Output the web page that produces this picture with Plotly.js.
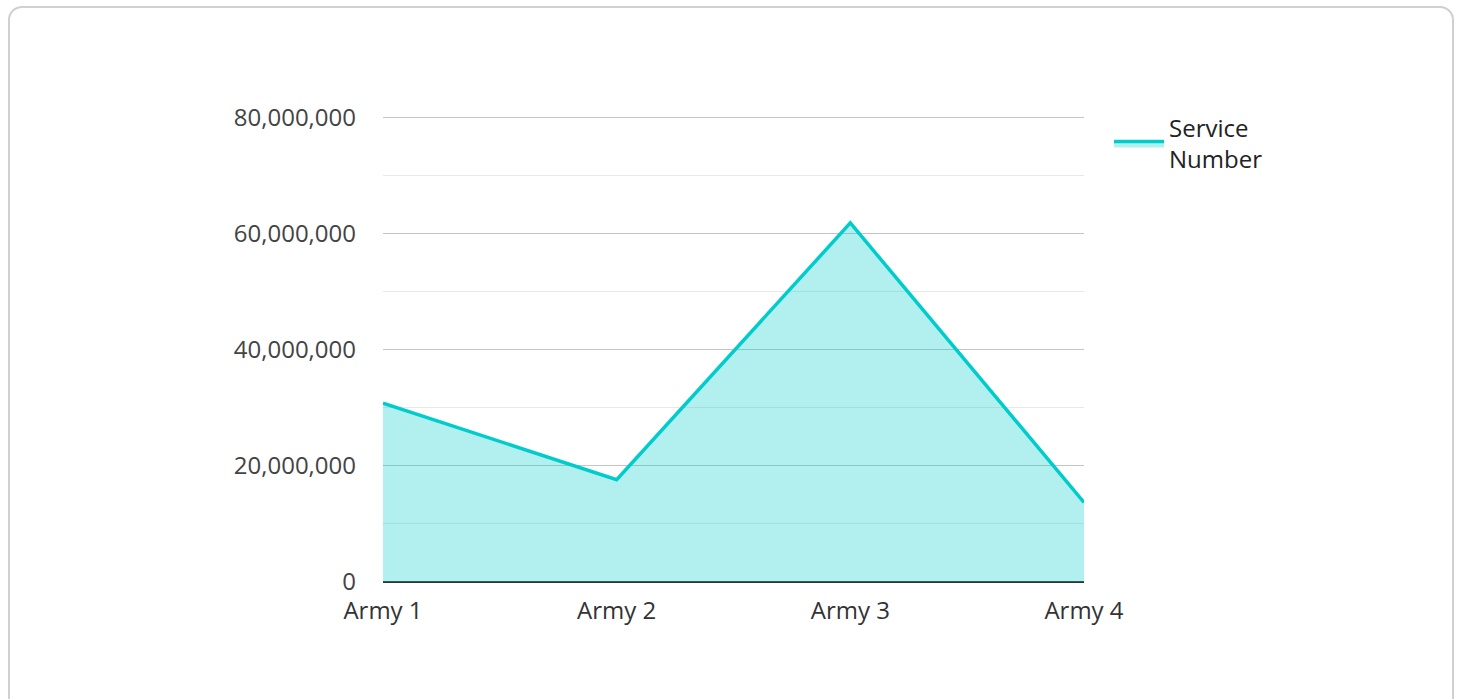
<!DOCTYPE html>
<html>
<head>
<meta charset="utf-8">
<script src="https://cdn.plot.ly/plotly-3.0.1.min.js"></script>
<style>
html,body{margin:0;padding:0;background:#fff;width:1460px;height:699px;overflow:hidden;}
#card{position:absolute;left:8px;top:6px;width:1446px;height:720px;border:2px solid #d0d0d0;border-radius:14px;box-sizing:border-box;}
#chart{position:absolute;left:0;top:0;width:1460px;height:699px;}
</style>
</head>
<body>
<div id="card"></div>
<div id="chart"></div>
<script>
const categories = ["Army 1", "Army 2", "Army 3", "Army 4"];
const serviceNumber = [30800000, 17600000, 61800000, 13700000];
const seriesName = "Service<br>Number";
const yTickVals = [0, 20000000, 40000000, 60000000, 80000000];
const yTickText = ["0", "20,000,000", "40,000,000", "60,000,000", "80,000,000"];

const trace = {
  x: categories,
  y: serviceNumber,
  type: 'scatter',
  mode: 'lines',
  name: seriesName,
  fill: 'tozeroy',
  fillcolor: 'rgba(0,204,204,0.30)',
  line: {color: 'rgb(0,204,204)', width: 3.5},
  hoverinfo: 'x+y'
};

const layout = {
  width: 1460, height: 699,
  paper_bgcolor: 'rgba(0,0,0,0)',
  plot_bgcolor: 'rgba(0,0,0,0)',
  margin: {l: 383, r: 376, t: 116, b: 117, pad: 0},
  font: {family: '"Open Sans", "Noto Sans", sans-serif', size: 24, color: '#444'},
  showlegend: true,
  legend: {x: 1.0357, y: 1.022, xanchor: 'left', yanchor: 'top', itemwidth: 50, font: {size: 24, color: '#222'}, bgcolor: 'rgba(0,0,0,0)'},
  xaxis: {
    type: 'category',
    range: [0, 3],
    showgrid: false,
    zeroline: false,
    showline: false,
    ticks: '',
    ticklabelstandoff: 12,
    tickfont: {size: 24, color: '#333'},
    fixedrange: true
  },
  yaxis: {
    range: [0, 80200000],
    tickvals: yTickVals,
    ticktext: yTickText,
    showgrid: true,
    gridcolor: '#c4c4c4',
    gridwidth: 1,
    minor: {dtick: 10000000, showgrid: true, gridcolor: '#e8e8e8', gridwidth: 1},
    zeroline: true,
    zerolinecolor: '#333',
    zerolinewidth: 2,
    showline: false,
    ticks: '',
    ticklabelstandoff: 26,
    tickfont: {size: 24, color: '#444'},
    fixedrange: true
  }
};

Plotly.newPlot('chart', [trace], layout, {displayModeBar: false});
</script>
</body>
</html>
